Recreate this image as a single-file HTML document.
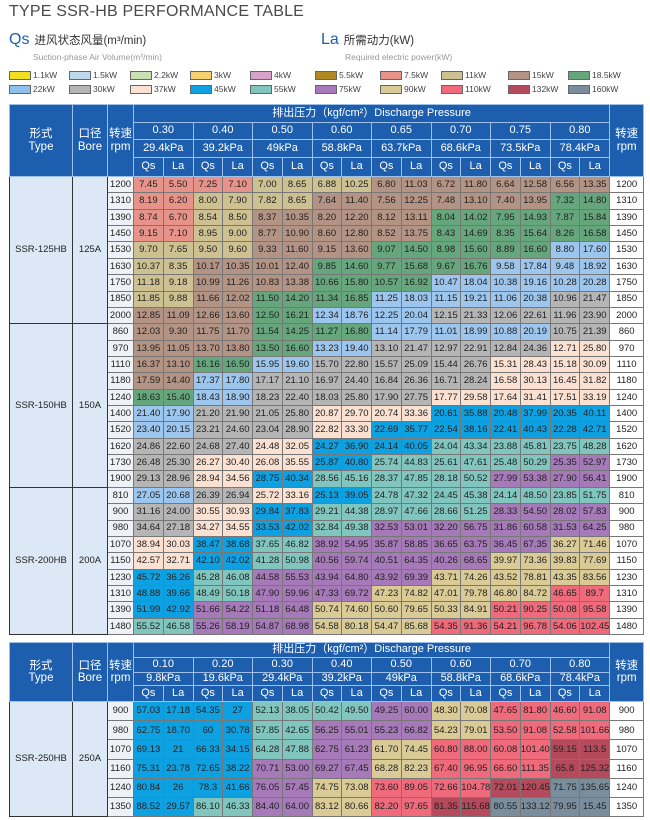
<!DOCTYPE html>
<html><head><meta charset="utf-8"><style>
*{margin:0;padding:0;box-sizing:border-box}
body{width:650px;height:820px;background:#fff;position:relative;overflow:hidden;font-family:"Liberation Sans","Noto Sans CJK SC",sans-serif;color:#222}
.title{position:absolute;left:9px;top:3px;font-size:16px;color:#4a4a4a;letter-spacing:0.2px}
.qs{position:absolute;top:31px;font-size:11.5px;color:#333}
.qs b{font-weight:normal;color:#1f5fb0;font-size:16px;margin-right:5px}
.sub{position:absolute;top:52px;font-size:8.5px;color:#999}
.leg{position:absolute;font-size:8.5px;color:#444;display:flex;align-items:center}
.leg i{display:inline-block;width:22px;height:9px;border:1px solid #666;margin-right:2px}
table{position:absolute;left:9px;border-collapse:collapse;table-layout:fixed;width:634px;border:1.5px solid #333}
td{border:1px solid #777;text-align:center;font-size:9.5px;padding:0;white-space:nowrap;overflow:hidden;line-height:1}
th{background:#1d5fae;color:#fff;font-weight:normal;border:1px solid #9cc0e8;font-size:11px;padding:0;line-height:1.05}
th.big{font-size:11.5px}
td.ty{background:#dce8f5;font-size:9.5px;border:1px solid #333}
td.rl{background:#eef2f7;font-size:9.5px}
td.rr{background:#fff;font-size:9.5px;border-left:1.5px solid #333}
.a{background:#e8938a}.k{background:#cdc192}.b{background:#b39384}.g{background:#66a67d}.u{background:#9cc6ee}.y{background:#b5b5b5}.p{background:#fbe1d2}.c{background:#0ea1e2}.t{background:#80c6bf}.v{background:#a679b9}.n{background:#dacb96}.r{background:#ef6b7b}.d{background:#b44a5c}.s{background:#7a8d9c}
tr.sep td{border-top:1.5px solid #333}
#t1 tbody tr{height:16.36px}
#t2 tbody tr{height:19.2px}
</style></head><body>
<div class="title">TYPE SSR-HB PERFORMANCE TABLE</div>
<div class="qs" style="left:9px"><b>Qs</b>进风状态风量(m³/min)</div>
<div class="sub" style="left:33px">Suction-phase Air Volume(m³/min)</div>
<div class="qs" style="left:321px"><b>La</b>所需动力(kW)</div>
<div class="sub" style="left:345px">Required electric power(kW)</div>

<div class="leg" style="left:9px;top:70px"><i style="background:#f0e020"></i>1.1kW</div>
<div class="leg" style="left:69px;top:70px"><i style="background:#bcd9f0"></i>1.5kW</div>
<div class="leg" style="left:130px;top:70px"><i style="background:#c9e0b2"></i>2.2kW</div>
<div class="leg" style="left:190px;top:70px"><i style="background:#f6d170"></i>3kW</div>
<div class="leg" style="left:250px;top:70px"><i style="background:#d9a2c9"></i>4kW</div>
<div class="leg" style="left:315px;top:70px"><i style="background:#b08a20"></i>5.5kW</div>
<div class="leg" style="left:380px;top:70px"><i style="background:#e8938a"></i>7.5kW</div>
<div class="leg" style="left:441px;top:70px"><i style="background:#cdc192"></i>11kW</div>
<div class="leg" style="left:508px;top:70px"><i style="background:#b39384"></i>15kW</div>
<div class="leg" style="left:568px;top:70px"><i style="background:#66a67d"></i>18.5kW</div>
<div class="leg" style="left:9px;top:84px"><i style="background:#8ec0ec"></i>22kW</div>
<div class="leg" style="left:69px;top:84px"><i style="background:#b5b5b5"></i>30kW</div>
<div class="leg" style="left:130px;top:84px"><i style="background:#fbe1d2"></i>37kW</div>
<div class="leg" style="left:190px;top:84px"><i style="background:#0ea1e2"></i>45kW</div>
<div class="leg" style="left:250px;top:84px"><i style="background:#80c6bf"></i>55kW</div>
<div class="leg" style="left:315px;top:84px"><i style="background:#a679b9"></i>75kW</div>
<div class="leg" style="left:380px;top:84px"><i style="background:#dacb96"></i>90kW</div>
<div class="leg" style="left:441px;top:84px"><i style="background:#ef6b7b"></i>110kW</div>
<div class="leg" style="left:508px;top:84px"><i style="background:#b44a5c"></i>132kW</div>
<div class="leg" style="left:568px;top:84px"><i style="background:#7a8d9c"></i>160kW</div>

<table id="t1" style="top:104px">
<colgroup><col style="width:63px"><col style="width:35px"><col style="width:26px"><col span="16" style="width:29.75px"><col style="width:34px"></colgroup>
<thead>
<tr style="height:18px"><th rowspan="4" class="big">形式<br>Type</th><th rowspan="4" class="big">口径<br>Bore</th><th rowspan="4" class="big">转速<br>rpm</th><th colspan="16">排出压力（kgf/cm²）Discharge Pressure</th><th rowspan="4" class="big">转速<br>rpm</th></tr>
<tr style="height:17px"><th colspan="2">0.30</th><th colspan="2">0.40</th><th colspan="2">0.50</th><th colspan="2">0.60</th><th colspan="2">0.65</th><th colspan="2">0.70</th><th colspan="2">0.75</th><th colspan="2">0.80</th></tr>
<tr style="height:18px"><th colspan="2">29.4kPa</th><th colspan="2">39.2kPa</th><th colspan="2">49kPa</th><th colspan="2">58.8kPa</th><th colspan="2">63.7kPa</th><th colspan="2">68.6kPa</th><th colspan="2">73.5kPa</th><th colspan="2">78.4kPa</th></tr>
<tr style="height:19px"><th>Qs</th><th>La</th><th>Qs</th><th>La</th><th>Qs</th><th>La</th><th>Qs</th><th>La</th><th>Qs</th><th>La</th><th>Qs</th><th>La</th><th>Qs</th><th>La</th><th>Qs</th><th>La</th></tr>
</thead>
<tbody>
<tr><td class="ty" rowspan="9">SSR-125HB</td><td class="ty" rowspan="9">125A</td><td class="rl">1200</td><td class="a">7.45</td><td class="a">5.50</td><td class="a">7.25</td><td class="a">7.10</td><td class="k">7.00</td><td class="k">8.65</td><td class="k">6.88</td><td class="k">10.25</td><td class="b">6.80</td><td class="b">11.03</td><td class="b">6.72</td><td class="b">11.80</td><td class="b">6.64</td><td class="b">12.58</td><td class="b">6.56</td><td class="b">13.35</td><td class="rr">1200</td></tr>
<tr><td class="rl">1310</td><td class="a">8.19</td><td class="a">6.20</td><td class="k">8.00</td><td class="k">7.90</td><td class="k">7.82</td><td class="k">8.65</td><td class="b">7.64</td><td class="b">11.40</td><td class="b">7.56</td><td class="b">12.25</td><td class="b">7.48</td><td class="b">13.10</td><td class="b">7.40</td><td class="b">13.95</td><td class="g">7.32</td><td class="g">14.80</td><td class="rr">1310</td></tr>
<tr><td class="rl">1390</td><td class="a">8.74</td><td class="a">6.70</td><td class="k">8.54</td><td class="k">8.50</td><td class="b">8.37</td><td class="b">10.35</td><td class="b">8.20</td><td class="b">12.20</td><td class="b">8.12</td><td class="b">13.11</td><td class="g">8.04</td><td class="g">14.02</td><td class="g">7.95</td><td class="g">14.93</td><td class="g">7.87</td><td class="g">15.84</td><td class="rr">1390</td></tr>
<tr><td class="rl">1450</td><td class="a">9.15</td><td class="a">7.10</td><td class="k">8.95</td><td class="k">9.00</td><td class="b">8.77</td><td class="b">10.90</td><td class="b">8.60</td><td class="b">12.80</td><td class="b">8.52</td><td class="b">13.75</td><td class="g">8.43</td><td class="g">14.69</td><td class="g">8.35</td><td class="g">15.64</td><td class="g">8.26</td><td class="g">16.58</td><td class="rr">1450</td></tr>
<tr><td class="rl">1530</td><td class="k">9.70</td><td class="k">7.65</td><td class="k">9.50</td><td class="k">9.60</td><td class="b">9.33</td><td class="b">11.60</td><td class="b">9.15</td><td class="b">13.60</td><td class="g">9.07</td><td class="g">14.50</td><td class="g">8.98</td><td class="g">15.60</td><td class="g">8.89</td><td class="g">16.60</td><td class="u">8.80</td><td class="u">17.60</td><td class="rr">1530</td></tr>
<tr><td class="rl">1630</td><td class="k">10.37</td><td class="k">8.35</td><td class="b">10.17</td><td class="b">10.35</td><td class="b">10.01</td><td class="b">12.40</td><td class="g">9.85</td><td class="g">14.60</td><td class="g">9.77</td><td class="g">15.68</td><td class="g">9.67</td><td class="g">16.76</td><td class="u">9.58</td><td class="u">17.84</td><td class="u">9.48</td><td class="u">18.92</td><td class="rr">1630</td></tr>
<tr><td class="rl">1750</td><td class="k">11.18</td><td class="k">9.18</td><td class="b">10.99</td><td class="b">11.26</td><td class="b">10.83</td><td class="b">13.38</td><td class="g">10.66</td><td class="g">15.80</td><td class="g">10.57</td><td class="g">16.92</td><td class="u">10.47</td><td class="u">18.04</td><td class="u">10.38</td><td class="u">19.16</td><td class="u">10.28</td><td class="u">20.28</td><td class="rr">1750</td></tr>
<tr><td class="rl">1850</td><td class="k">11.85</td><td class="k">9.88</td><td class="b">11.66</td><td class="b">12.02</td><td class="g">11.50</td><td class="g">14.20</td><td class="g">11.34</td><td class="g">16.85</td><td class="u">11.25</td><td class="u">18.03</td><td class="u">11.15</td><td class="u">19.21</td><td class="u">11.06</td><td class="u">20.38</td><td class="y">10.96</td><td class="y">21.47</td><td class="rr">1850</td></tr>
<tr><td class="rl">2000</td><td class="b">12.85</td><td class="b">11.09</td><td class="b">12.66</td><td class="b">13.60</td><td class="g">12.50</td><td class="g">16.21</td><td class="u">12.34</td><td class="u">18.76</td><td class="u">12.25</td><td class="u">20.04</td><td class="y">12.15</td><td class="y">21.33</td><td class="y">12.06</td><td class="y">22.61</td><td class="y">11.96</td><td class="y">23.90</td><td class="rr">2000</td></tr>

<tr class="sep"><td class="ty" rowspan="10">SSR-150HB</td><td class="ty" rowspan="10">150A</td><td class="rl">860</td><td class="b">12.03</td><td class="b">9.30</td><td class="b">11.75</td><td class="b">11.70</td><td class="g">11.54</td><td class="g">14.25</td><td class="g">11.27</td><td class="g">16.80</td><td class="u">11.14</td><td class="u">17.79</td><td class="u">11.01</td><td class="u">18.99</td><td class="u">10.88</td><td class="u">20.19</td><td class="y">10.75</td><td class="y">21.39</td><td class="rr">860</td></tr>
<tr><td class="rl">970</td><td class="b">13.95</td><td class="b">11.05</td><td class="b">13.70</td><td class="b">13.80</td><td class="g">13.50</td><td class="g">16.60</td><td class="u">13.23</td><td class="u">19.40</td><td class="y">13.10</td><td class="y">21.47</td><td class="y">12.97</td><td class="y">22.91</td><td class="y">12.84</td><td class="y">24.36</td><td class="p">12.71</td><td class="p">25.80</td><td class="rr">970</td></tr>
<tr><td class="rl">1110</td><td class="b">16.37</td><td class="b">13.10</td><td class="g">16.16</td><td class="g">16.50</td><td class="u">15.95</td><td class="u">19.60</td><td class="y">15.70</td><td class="y">22.80</td><td class="y">15.57</td><td class="y">25.09</td><td class="y">15.44</td><td class="y">26.76</td><td class="p">15.31</td><td class="p">28.43</td><td class="p">15.18</td><td class="p">30.09</td><td class="rr">1110</td></tr>
<tr><td class="rl">1180</td><td class="b">17.59</td><td class="b">14.40</td><td class="u">17.37</td><td class="u">17.80</td><td class="y">17.17</td><td class="y">21.10</td><td class="y">16.97</td><td class="y">24.40</td><td class="y">16.84</td><td class="y">26.36</td><td class="y">16.71</td><td class="y">28.24</td><td class="p">16.58</td><td class="p">30.13</td><td class="p">16.45</td><td class="p">31.82</td><td class="rr">1180</td></tr>
<tr><td class="rl">1240</td><td class="g">18.63</td><td class="g">15.40</td><td class="u">18.43</td><td class="u">18.90</td><td class="y">18.23</td><td class="y">22.40</td><td class="y">18.03</td><td class="y">25.80</td><td class="y">17.90</td><td class="y">27.75</td><td class="p">17.77</td><td class="p">29.58</td><td class="p">17.64</td><td class="p">31.41</td><td class="p">17.51</td><td class="p">33.19</td><td class="rr">1240</td></tr>
<tr><td class="rl">1400</td><td class="u">21.40</td><td class="u">17.90</td><td class="y">21.20</td><td class="y">21.90</td><td class="y">21.05</td><td class="y">25.80</td><td class="p">20.87</td><td class="p">29.70</td><td class="p">20.74</td><td class="p">33.36</td><td class="c">20.61</td><td class="c">35.88</td><td class="c">20.48</td><td class="c">37.99</td><td class="c">20.35</td><td class="c">40.11</td><td class="rr">1400</td></tr>
<tr><td class="rl">1520</td><td class="u">23.40</td><td class="u">20.15</td><td class="y">23.21</td><td class="y">24.60</td><td class="y">23.04</td><td class="y">28.90</td><td class="p">22.82</td><td class="p">33.30</td><td class="c">22.69</td><td class="c">35.77</td><td class="c">22.54</td><td class="c">38.16</td><td class="c">22.41</td><td class="c">40.43</td><td class="c">22.28</td><td class="c">42.71</td><td class="rr">1520</td></tr>
<tr><td class="rl">1620</td><td class="y">24.86</td><td class="y">22.60</td><td class="y">24.68</td><td class="y">27.40</td><td class="p">24.48</td><td class="p">32.05</td><td class="c">24.27</td><td class="c">36.90</td><td class="c">24.14</td><td class="c">40.05</td><td class="t">24.04</td><td class="t">43.34</td><td class="t">23.88</td><td class="t">45.81</td><td class="t">23.75</td><td class="t">48.28</td><td class="rr">1620</td></tr>
<tr><td class="rl">1730</td><td class="y">26.48</td><td class="y">25.30</td><td class="p">26.27</td><td class="p">30.40</td><td class="p">26.08</td><td class="p">35.55</td><td class="c">25.87</td><td class="c">40.80</td><td class="t">25.74</td><td class="t">44.83</td><td class="t">25.61</td><td class="t">47.61</td><td class="t">25.48</td><td class="t">50.29</td><td class="v">25.35</td><td class="v">52.97</td><td class="rr">1730</td></tr>
<tr><td class="rl">1900</td><td class="y">29.13</td><td class="y">28.96</td><td class="p">28.94</td><td class="p">34.56</td><td class="c">28.75</td><td class="c">40.34</td><td class="t">28.56</td><td class="t">45.16</td><td class="t">28.37</td><td class="t">47.85</td><td class="t">28.18</td><td class="t">50.52</td><td class="v">27.99</td><td class="v">53.38</td><td class="v">27.90</td><td class="v">56.41</td><td class="rr">1900</td></tr>

<tr class="sep"><td class="ty" rowspan="9">SSR-200HB</td><td class="ty" rowspan="9">200A</td><td class="rl">810</td><td class="u">27.05</td><td class="u">20.68</td><td class="y">26.39</td><td class="y">26.94</td><td class="p">25.72</td><td class="p">33.16</td><td class="c">25.13</td><td class="c">39.05</td><td class="t">24.78</td><td class="t">47.32</td><td class="t">24.45</td><td class="t">45.38</td><td class="t">24.14</td><td class="t">48.50</td><td class="t">23.85</td><td class="t">51.75</td><td class="rr">810</td></tr>
<tr><td class="rl">900</td><td class="y">31.16</td><td class="y">24.00</td><td class="p">30.55</td><td class="p">30.93</td><td class="c">29.84</td><td class="c">37.83</td><td class="t">29.21</td><td class="t">44.38</td><td class="t">28.97</td><td class="t">47.66</td><td class="t">28.66</td><td class="t">51.25</td><td class="v">28.33</td><td class="v">54.50</td><td class="v">28.02</td><td class="v">57.83</td><td class="rr">900</td></tr>
<tr><td class="rl">980</td><td class="y">34.64</td><td class="y">27.18</td><td class="p">34.27</td><td class="p">34.55</td><td class="c">33.53</td><td class="c">42.02</td><td class="t">32.84</td><td class="t">49.38</td><td class="v">32.53</td><td class="v">53.01</td><td class="v">32.20</td><td class="v">56.75</td><td class="v">31.86</td><td class="v">60.58</td><td class="v">31.53</td><td class="v">64.25</td><td class="rr">980</td></tr>
<tr><td class="rl">1070</td><td class="p">38.94</td><td class="p">30.03</td><td class="c">38.47</td><td class="c">38.68</td><td class="t">37.65</td><td class="t">46.82</td><td class="v">38.92</td><td class="v">54.95</td><td class="v">35.87</td><td class="v">58.85</td><td class="v">36.65</td><td class="v">63.75</td><td class="v">36.45</td><td class="v">67.35</td><td class="n">36.27</td><td class="n">71.46</td><td class="rr">1070</td></tr>
<tr><td class="rl">1150</td><td class="p">42.57</td><td class="p">32.71</td><td class="c">42.10</td><td class="c">42.02</td><td class="t">41.28</td><td class="t">50.98</td><td class="v">40.56</td><td class="v">59.74</td><td class="v">40.51</td><td class="v">64.35</td><td class="v">40.26</td><td class="v">68.65</td><td class="n">39.97</td><td class="n">73.36</td><td class="n">39.83</td><td class="n">77.69</td><td class="rr">1150</td></tr>
<tr><td class="rl">1230</td><td class="c">45.72</td><td class="c">36.26</td><td class="t">45.28</td><td class="t">46.08</td><td class="v">44.58</td><td class="v">55.53</td><td class="v">43.94</td><td class="v">64.80</td><td class="v">43.92</td><td class="v">69.39</td><td class="n">43.71</td><td class="n">74.26</td><td class="n">43.52</td><td class="n">78.81</td><td class="n">43.35</td><td class="n">83.56</td><td class="rr">1230</td></tr>
<tr><td class="rl">1310</td><td class="c">48.88</td><td class="c">39.66</td><td class="t">48.49</td><td class="t">50.18</td><td class="v">47.90</td><td class="v">59.96</td><td class="v">47.33</td><td class="v">69.72</td><td class="n">47.23</td><td class="n">74.82</td><td class="n">47.01</td><td class="n">79.78</td><td class="n">46.80</td><td class="n">84.72</td><td class="r">46.65</td><td class="r">89.7</td><td class="rr">1310</td></tr>
<tr><td class="rl">1390</td><td class="c">51.99</td><td class="c">42.92</td><td class="v">51.66</td><td class="v">54.22</td><td class="v">51.18</td><td class="v">64.48</td><td class="n">50.74</td><td class="n">74.60</td><td class="n">50.60</td><td class="n">79.65</td><td class="n">50.33</td><td class="n">84.91</td><td class="r">50.21</td><td class="r">90.25</td><td class="r">50.08</td><td class="r">95.58</td><td class="rr">1390</td></tr>
<tr><td class="rl">1480</td><td class="t">55.52</td><td class="t">46.58</td><td class="v">55.26</td><td class="v">58.19</td><td class="v">54.87</td><td class="v">68.98</td><td class="n">54.58</td><td class="n">80.18</td><td class="n">54.47</td><td class="n">85.68</td><td class="r">54.35</td><td class="r">91.36</td><td class="r">54.21</td><td class="r">96.78</td><td class="r">54.06</td><td class="r">102.45</td><td class="rr">1480</td></tr>
</tbody></table>

<table id="t2" style="top:642px">
<colgroup><col style="width:63px"><col style="width:35px"><col style="width:26px"><col span="16" style="width:29.75px"><col style="width:34px"></colgroup>
<thead>
<tr style="height:15px"><th rowspan="4" class="big">形式<br>Type</th><th rowspan="4" class="big">口径<br>Bore</th><th rowspan="4" class="big">转速<br>rpm</th><th colspan="16">排出压力（kgf/cm²）Discharge Pressure</th><th rowspan="4" class="big">转速<br>rpm</th></tr>
<tr style="height:15px"><th colspan="2">0.10</th><th colspan="2">0.20</th><th colspan="2">0.30</th><th colspan="2">0.40</th><th colspan="2">0.50</th><th colspan="2">0.60</th><th colspan="2">0.70</th><th colspan="2">0.80</th></tr>
<tr style="height:13px"><th colspan="2">9.8kPa</th><th colspan="2">19.6kPa</th><th colspan="2">29.4kPa</th><th colspan="2">39.2kPa</th><th colspan="2">49kPa</th><th colspan="2">58.8kPa</th><th colspan="2">68.6kPa</th><th colspan="2">78.4kPa</th></tr>
<tr style="height:16px"><th>Qs</th><th>La</th><th>Qs</th><th>La</th><th>Qs</th><th>La</th><th>Qs</th><th>La</th><th>Qs</th><th>La</th><th>Qs</th><th>La</th><th>Qs</th><th>La</th><th>Qs</th><th>La</th></tr>
</thead>
<tbody>
<tr><td class="ty" rowspan="6">SSR-250HB</td><td class="ty" rowspan="6">250A</td><td class="rl">900</td><td class="c">57.03</td><td class="c">17.18</td><td class="c">54.35</td><td class="c">27</td><td class="t">52.13</td><td class="t">38.05</td><td class="t">50.42</td><td class="t">49.50</td><td class="v">49.25</td><td class="v">60.00</td><td class="n">48.30</td><td class="n">70.08</td><td class="r">47.65</td><td class="r">81.80</td><td class="r">46.60</td><td class="r">91.08</td><td class="rr">900</td></tr>
<tr><td class="rl">980</td><td class="c">62.75</td><td class="c">18.70</td><td class="c">60</td><td class="c">30.78</td><td class="t">57.85</td><td class="t">42.65</td><td class="v">56.25</td><td class="v">55.01</td><td class="v">55.23</td><td class="v">66.82</td><td class="n">54.23</td><td class="n">79.01</td><td class="r">53.50</td><td class="r">91.08</td><td class="r">52.58</td><td class="r">101.66</td><td class="rr">980</td></tr>
<tr><td class="rl">1070</td><td class="c">69.13</td><td class="c">21</td><td class="c">66.33</td><td class="c">34.15</td><td class="t">64.28</td><td class="t">47.88</td><td class="v">62.75</td><td class="v">61.23</td><td class="n">61.70</td><td class="n">74.45</td><td class="r">60.80</td><td class="r">88.00</td><td class="r">60.08</td><td class="r">101.40</td><td class="d">59.15</td><td class="d">113.5</td><td class="rr">1070</td></tr>
<tr><td class="rl">1160</td><td class="c">75.31</td><td class="c">23.78</td><td class="c">72.65</td><td class="c">38.22</td><td class="v">70.71</td><td class="v">53.00</td><td class="v">69.27</td><td class="v">67.45</td><td class="n">68.28</td><td class="n">82.23</td><td class="r">67.40</td><td class="r">96.95</td><td class="r">66.60</td><td class="r">111.35</td><td class="d">65.8</td><td class="d">125.32</td><td class="rr">1160</td></tr>
<tr><td class="rl">1240</td><td class="c">80.84</td><td class="c">26</td><td class="c">78.3</td><td class="c">41.66</td><td class="v">76.05</td><td class="v">57.45</td><td class="n">74.75</td><td class="n">73.08</td><td class="r">73.60</td><td class="r">89.05</td><td class="r">72.66</td><td class="r">104.78</td><td class="d">72.01</td><td class="d">120.45</td><td class="s">71.75</td><td class="s">135.65</td><td class="rr">1240</td></tr>
<tr><td class="rl">1350</td><td class="c">88.52</td><td class="c">29.57</td><td class="t">86.10</td><td class="t">46.33</td><td class="v">84.40</td><td class="v">64.00</td><td class="n">83.12</td><td class="n">80.66</td><td class="r">82.20</td><td class="r">97.65</td><td class="d">81.35</td><td class="d">115.68</td><td class="s">80.55</td><td class="s">133.12</td><td class="s">79.95</td><td class="s">15.45</td><td class="rr">1350</td></tr>
</tbody></table>
</body></html>
